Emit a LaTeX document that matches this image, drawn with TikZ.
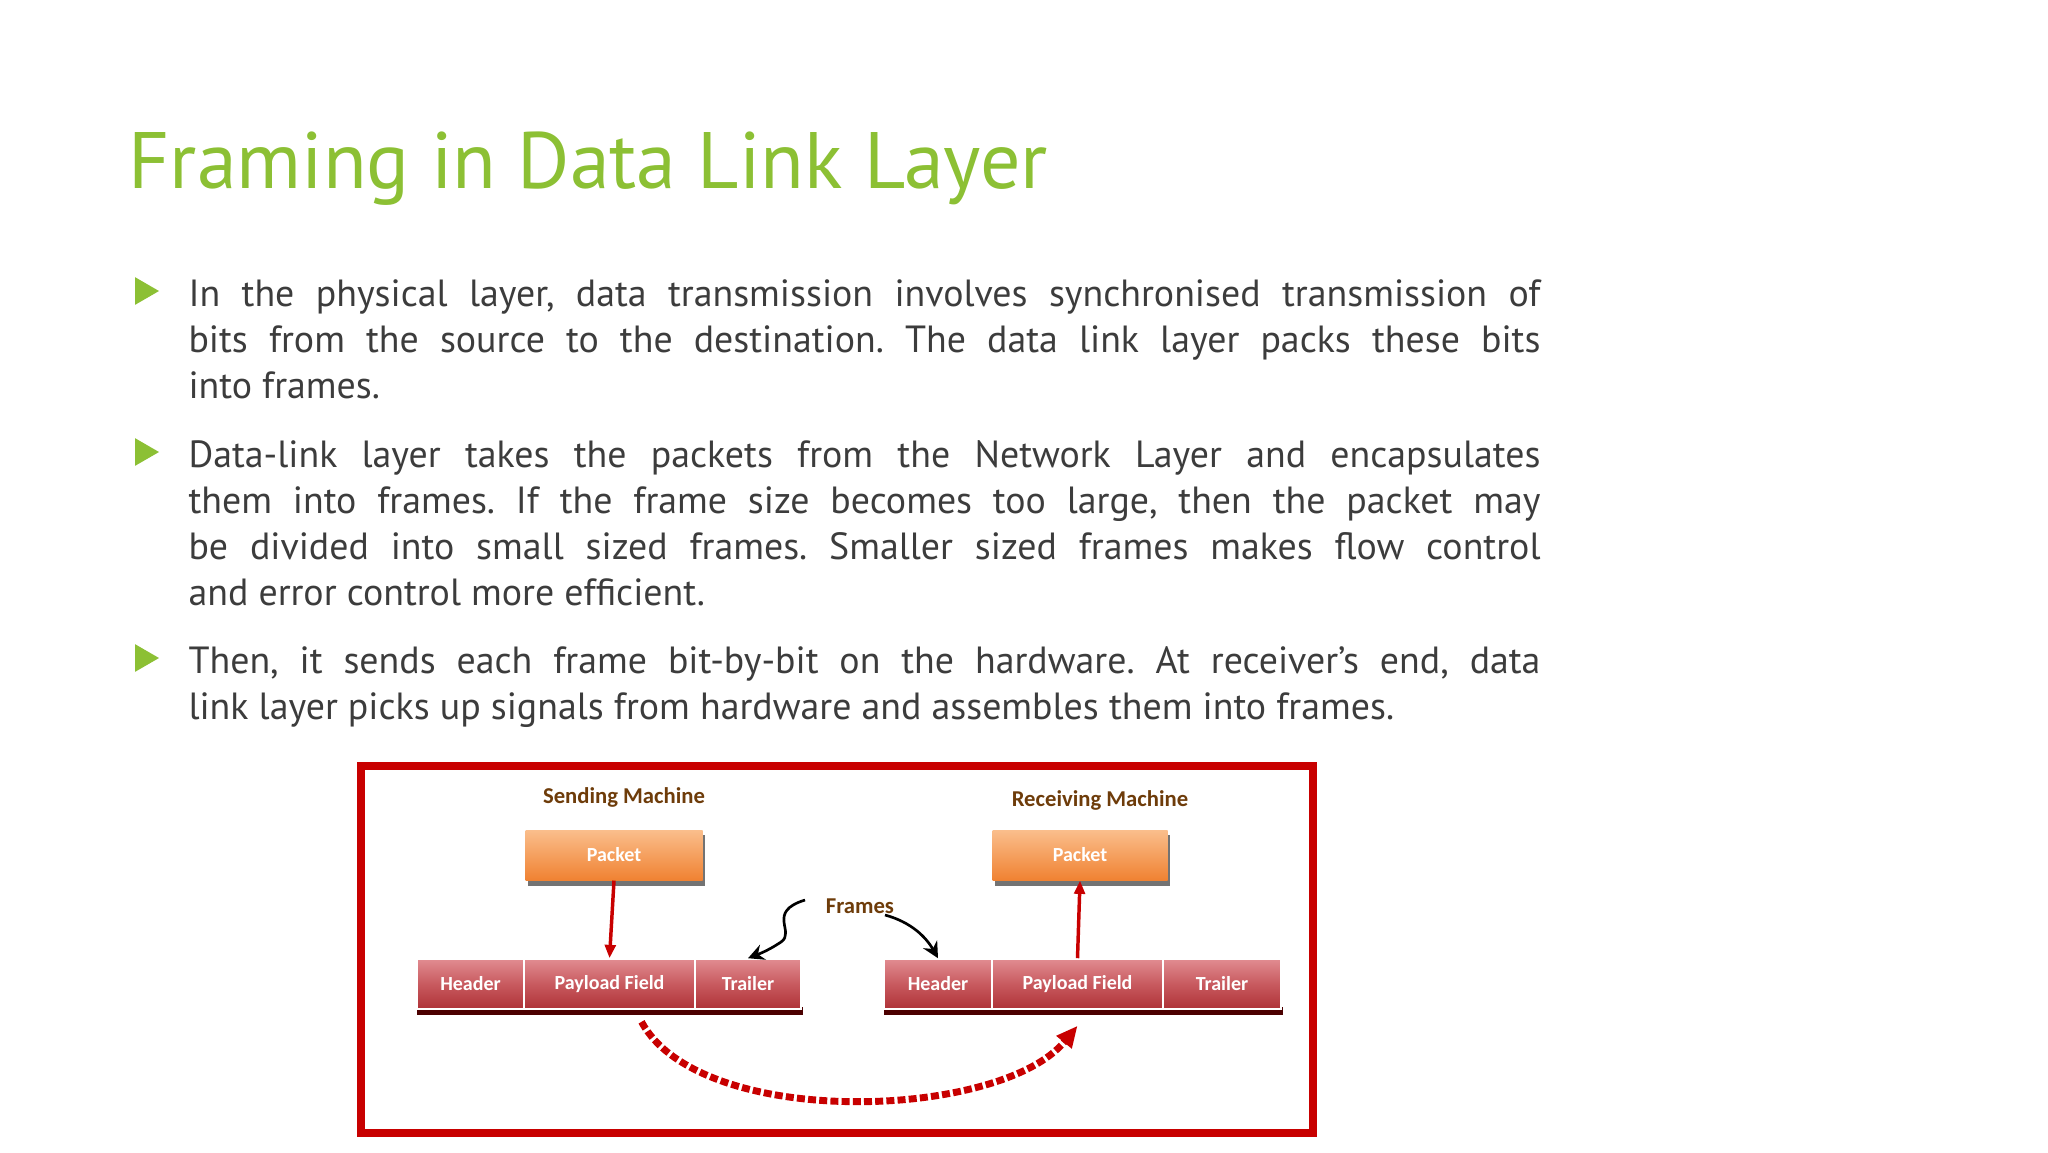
\documentclass[tikz,border=0pt]{standalone}
\usepackage{fontspec}
\setmainfont{PT Sans}
\newfontfamily\diag{Carlito}
\usetikzlibrary{arrows.meta,shapes.geometric}
\definecolor{ttl}{RGB}{140,192,52}
\definecolor{bodyc}{RGB}{60,60,60}
\definecolor{boxred}{RGB}{200,0,0}
\definecolor{brn}{RGB}{110,60,10}
\frenchspacing
\begin{document}
\begin{tikzpicture}[x=0.375pt,y=-0.375pt,
  bul/.style={regular polygon,regular polygon sides=3,shape border rotate=-90,fill=ttl,inner sep=0,minimum size=12pt},
  para/.style={anchor=north west,inner sep=0,text width=507pt,align=justify,font=\fontsize{14.2}{17.3}\selectfont,text=bodyc},
  cell/.style={draw=white,line width=0.6pt,top color={rgb,255:red,225;green,140;blue,145},bottom color={rgb,255:red,175;green,50;blue,55},middle color={rgb,255:red,200;green,90;blue,95},text=white,font=\diag\bfseries\fontsize{7.5}{9}\selectfont,inner sep=0},
  pk/.style={top color={rgb,255:red,250;green,190;blue,140},bottom color={rgb,255:red,240;green,130;blue,50},text=white,font=\diag\bfseries\fontsize{7.5}{9}\selectfont,inner sep=0},
  lbl/.style={text=brn,font=\diag\bfseries\fontsize{8.5}{10}\selectfont}]
\useasboundingbox (0,0) rectangle (2048,1152);
\fill[white] (0,0) rectangle (2048,1152);
\node[anchor=base west,inner sep=0,text=ttl,font=\fontsize{30}{36}\selectfont] (title) at (128,188) {Framing in Data Link Layer};
\node[bul] (b1) at (143,291) {};
\node[bul] (b2) at (143,452) {};
\node[bul] (b3) at (143,658) {};
\node[para] (p1) at (188,279) {In the physical layer, data transmission involves synchronised transmission of\linebreak bits from the source to the destination. The data link layer packs these bits\linebreak into frames.};
\node[para] (p2) at (188,440) {Data-link layer takes the packets from the Network Layer and encapsulates\linebreak them into frames. If the frame size becomes too large, then the packet may\linebreak be divided into small sized frames. Smaller sized frames makes flow control\linebreak and error control more efficient.};
\node[para] (p3) at (188,646) {Then, it sends each frame bit-by-bit on the hardware. At receiver’s end, data\linebreak link layer picks up signals from hardware and assembles them into frames.};
% diagram
\draw[boxred,line width=3pt] (361,766) rectangle (1313,1133);
\node[lbl] (sm) at (624,797) {Sending Machine};
\node[lbl] (rm) at (1100,800) {Receiving Machine};
\fill[black!55] (528,835) rectangle (705,886);
\fill[black!55] (995,835) rectangle (1170,886);
\node[pk,minimum width=177*0.375pt,minimum height=50*0.375pt] (pk1) at (614,855) {Packet};
\node[pk,minimum width=175*0.375pt,minimum height=50*0.375pt] (pk2) at (1080,855) {Packet};
\fill[black!70!red] (417,1007) rectangle (803,1015);
\fill[black!70!red] (884,1007) rectangle (1283,1015);
\node[cell,minimum width=107*0.375pt,minimum height=50*0.375pt] (h1) at (470.5,984) {Header};
\node[cell,minimum width=171*0.375pt,minimum height=50*0.375pt] (pf1) at (609.5,984) {Payload Field};
\node[cell,minimum width=106*0.375pt,minimum height=50*0.375pt] (t1) at (748,984) {Trailer};
\node[cell,minimum width=108*0.375pt,minimum height=50*0.375pt] (h2) at (938,984) {Header};
\node[cell,minimum width=171*0.375pt,minimum height=50*0.375pt] (pf2) at (1077.5,984) {Payload Field};
\node[cell,minimum width=118*0.375pt,minimum height=50*0.375pt] (t2) at (1222,984) {Trailer};
\draw[boxred,line width=1.3pt,-{Triangle[length=5pt,width=4pt]}] (pk1.south) -- (pf1.north);
\draw[boxred,line width=1.3pt,-{Triangle[length=5pt,width=4pt]}] (pf2.north) -- (pk2.south);
\node[lbl] (fr) at (860,906) {Frames};
\coordinate (s1) at (805,900);
\draw[black,line width=1pt,-{Stealth[length=6pt,width=6pt,inset=2pt]}] (s1) .. controls (766,912) and (796,932) .. (781,942) .. controls (766,952) and (756,955) .. (t1.north);
\coordinate (s2) at (885,915);
\draw[black,line width=1pt,-{Stealth[length=6pt,width=6pt,inset=2pt]}] (s2) .. controls (911,922) and (926,937) .. (h2.north);
\draw[boxred,line width=2.6pt,dash pattern=on 3pt off 1.2pt,-{Triangle[length=8pt,width=7pt]}] (pf1.south) ++(32,12) .. controls (700,1130) and (1000,1120) .. ([yshift=-6pt]pf2.south);
\end{tikzpicture}
\end{document}
